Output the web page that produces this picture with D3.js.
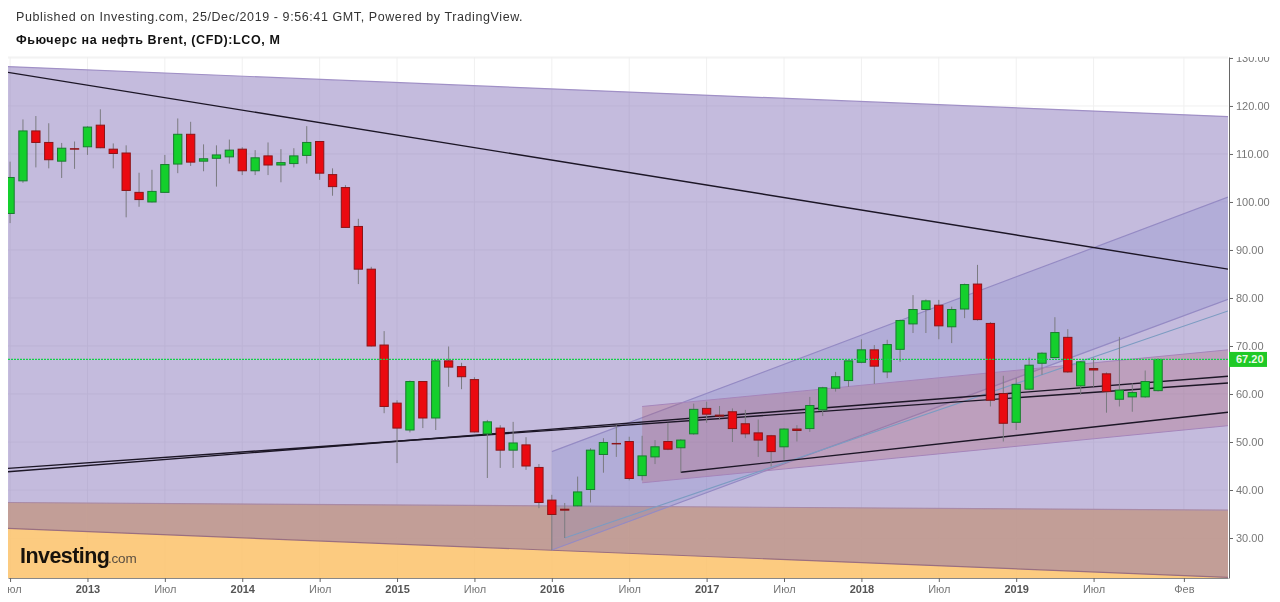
<!DOCTYPE html>
<html lang="en">
<head>
  <meta charset="UTF-8">
  <title>Brent monthly</title>
  <style>
    body, html { margin: 0; padding: 0; background: #fff; overflow: hidden; }
    text { font-family: "Liberation Sans", Arial, sans-serif; }
    /* the source is a soft jpeg */
    #svg { filter: blur(0.35px); }
  </style>
</head>
<body>
  <svg id="svg" width="1280" height="602"></svg>
  <script src="https://d3js.org/d3.v7.min.js"></script>
  <script>
    // monthly candles, first bar is Jul 2012, last is Dec 2019
    const opens = [97.6,104.4,114.8,112.4,108.5,111.1,111.5,116,111,110.2,102,100,102,107.9,114.1,108.5,109.1,109.4,111,106.5,109.6,107.7,108,109.7,112.6,105.7,103,94.9,86,70.2,58.1,52.5,62.6,55,66.9,65.7,63,51.7,52.9,48.3,49.4,44.7,37.9,36,36.7,40.1,47.4,49.7,50.1,43,46.9,50.1,48.8,51.7,57,55.6,56.3,53.8,51.9,51.3,49,52.7,52.8,56.7,61.2,62.8,66.6,69.2,64.6,69.3,74.6,77.6,78.5,74,77.7,82.9,74.7,60.1,54.1,61,66.4,67.6,71.8,61.7,65.3,64.2,58.9,59.4,59.4,60.7]
    const highs = [108.4,117.2,117.9,116.4,112.3,112.6,115.8,119.3,112.2,111.8,106.1,106.7,109.8,117.4,116.7,112,111.8,113,111.4,110.8,112.4,111,111.2,115.8,112.7,107,103.5,96.5,86.5,73.1,58.7,62.8,62.7,67.2,69.9,66.5,63.5,54.6,53.5,54.2,51,45.4,39,37.3,42.8,48.7,50.8,53.5,51.1,51.3,50.4,54,50.6,58,58.4,57.5,57,56.7,54.7,51.5,52.9,53.5,59.4,61.5,64.6,66.9,71.4,70.2,71.3,75.5,80.6,79.7,79.6,78.2,83,86.9,75,63.8,63.3,67.6,68.7,76,73.5,66.9,67.6,64.5,71.9,62.2,64.9,67.4]
    const lows = [95.6,104,107.2,107,105,106.9,109.8,111.2,107,96.8,99,99.9,101.9,106,107.5,106.4,103.2,108,105.6,105.6,105.6,104.1,107.2,108,104.6,101.3,94.6,82.9,69.9,56,45.6,52,52.9,52.5,61.5,61,52,42.5,44.6,44.6,44.2,36.2,27.5,30,36.6,37.4,43.6,46.9,42,42,45.4,48.3,43.6,51.5,54,54.8,50,50.8,46.9,44.9,46.3,50.1,52.1,55.4,60.5,61.5,66.4,62.1,63.3,66.7,72.7,72.7,71.4,70.6,75.8,75.3,57.4,50.1,52.5,60.8,64,67.4,64.4,59.8,61.5,56.1,57.4,56.3,59.2,60.5]
    const closes = [105.1,114.8,112.4,108.8,111.2,111,115.6,111.3,110.1,102.4,100.5,102.2,107.8,114.1,108.3,109,109.8,110.8,106.5,109.2,107.7,108.2,109.6,112.4,106,103.2,94.7,86,70,57.4,52.9,62.6,55,66.9,65.6,63.6,52.1,54.2,48.3,49.8,45,37.4,34.9,35.8,39.6,48.3,49.9,49.6,42.4,47.1,49,48.5,50.4,56.8,55.8,55.4,52.8,51.7,50.4,48,52.7,52.4,57.6,61.3,63.6,66.9,69.2,65.8,70.3,75.3,77.6,79.4,74.2,77.6,82.8,75.5,58.7,53.9,62,66,68.5,72.8,64.6,66.7,65,60.5,60.8,60.3,62.6,67.2]
    const lastPrice = 67.2

    // axis ticks
    const tickBars = [0,6,12,18,24,30,36,42,48,54,60,66,72,78,84,91]
    const tickLabels = ['Июл','2013','Июл','2014','Июл','2015','Июл','2016','Июл','2017','Июл','2018','Июл','2019','Июл','Фев']
    const priceTicks = [30,40,50,60,70,80,90,100,110,120,130]

    // drawings as [bar, price]
    const wideChannel = [[-0.16,128.2],[94.42,117.8],[94.42,21.8],[-0.16,32]]
    const lowerZone = [[-0.16,37.4],[94.42,35.8],[94.42,21.67],[-0.16,21.67]]
    const blueChannel = [[42,48],[94.42,101],[94.42,79.7],[42,27.5]]
    const pinkChannel = [[49,57.4],[94.42,69.2],[94.42,53.4],[49,41.5]]
    const downTrend = [[-0.16,127],[94.42,86]]
    const supportA = [[-0.16,44.5],[94.42,62.3]]
    const supportB = [[-0.16,43.8],[94.42,63.7]]
    const supportC = [[52,43.7],[94.42,56.2]]
    const thinLine = [[43,30],[94.42,77.3]]

    const margin = {top: 57, right: 52, bottom: 24, left: 8}
    const width = 1280
    const height = 602
    const plotRight = width - margin.right
    const plotBottom = height - margin.bottom

    const xScale = d3.scaleLinear().domain([-0.16, 94.42]).range([margin.left, plotRight])
    const yScale = d3.scaleLinear().domain([21.67, 130.2]).range([plotBottom, margin.top])

    const svg = d3.select('#svg')

    const defs = svg.append('defs')
    defs.append('clipPath').attr('id', 'plotClip').append('rect')
      .attr('x', margin.left).attr('y', margin.top)
      .attr('width', plotRight - margin.left).attr('height', plotBottom - margin.top)
    defs.append('clipPath').attr('id', 'axisClip').append('rect')
      .attr('x', 7).attr('y', margin.top)
      .attr('width', width - 7).attr('height', height - margin.top)

    // header
    svg.append('text').attr('x', 16).attr('y', 21)
      .style('font-size', '12.5px').style('letter-spacing', '0.59px').style('fill', '#333')
      .text('Published on Investing.com, 25/Dec/2019 - 9:56:41 GMT, Powered by TradingView.')
    svg.append('text').attr('x', 16).attr('y', 44)
      .style('font-size', '12.5px').style('font-weight', 'bold').style('letter-spacing', '0.6px').style('fill', '#111')
      .text('Фьючерс на нефть Brent, (CFD):LCO, M')

    // grid
    const grid = svg.append('g')
    grid.selectAll('.vgrid').data(tickBars).enter().append('line')
      .attr('x1', d => xScale(d)).attr('x2', d => xScale(d))
      .attr('y1', margin.top).attr('y2', plotBottom)
      .attr('stroke', '#f0f0f0')
    grid.selectAll('.hgrid').data(priceTicks).enter().append('line')
      .attr('x1', margin.left).attr('x2', plotRight)
      .attr('y1', d => yScale(d)).attr('y2', d => yScale(d))
      .attr('stroke', '#f0f0f0')
    grid.append('line').attr('x1', margin.left).attr('x2', plotRight)
      .attr('y1', margin.top).attr('y2', margin.top).attr('stroke', '#f0f0f0')

    const plot = svg.append('g').attr('clip-path', 'url(#plotClip)')
    const line = d3.line().x(d => xScale(d[0])).y(d => yScale(d[1]))

    // filled channels
    plot.append('path').attr('d', line(lowerZone) + 'Z').attr('fill', 'rgba(252,196,110,0.88)')
    plot.append('path').attr('d', line(wideChannel) + 'Z').attr('fill', 'rgba(124,104,180,0.45)')
    plot.append('path').attr('d', line(wideChannel.slice(0, 2))).attr('fill', 'none').attr('stroke', '#a090c6').attr('stroke-width', 1.2)
    plot.append('path').attr('d', line(wideChannel.slice(2))).attr('fill', 'none').attr('stroke', '#9a6f80').attr('stroke-width', 1.2)
    plot.append('path').attr('d', line(lowerZone.slice(0, 2))).attr('fill', 'none').attr('stroke', '#a98aa5').attr('stroke-width', 1.2)

    plot.append('path').attr('d', line(blueChannel) + 'Z').attr('fill', 'rgba(110,120,200,0.2)')
    plot.append('path').attr('d', line(blueChannel.slice(0, 2))).attr('fill', 'none').attr('stroke', '#958bc4').attr('stroke-width', 1.2)
    plot.append('path').attr('d', line(blueChannel.slice(2))).attr('fill', 'none').attr('stroke', '#958bc4').attr('stroke-width', 1.2)

    plot.append('path').attr('d', line(pinkChannel) + 'Z').attr('fill', 'rgba(173,97,117,0.3)')
    plot.append('path').attr('d', line(pinkChannel.slice(0, 2))).attr('fill', 'none').attr('stroke', '#a585ba').attr('stroke-width', 1)
    plot.append('path').attr('d', line(pinkChannel.slice(2))).attr('fill', 'none').attr('stroke', '#a585ba').attr('stroke-width', 1)

    plot.append('path').attr('d', line(thinLine)).attr('fill', 'none').attr('stroke', '#7d9cc2').attr('stroke-width', 1.2)

    // trend lines
    const trendLines = [downTrend, supportA, supportB, supportC]
    plot.selectAll('.trend').data(trendLines).enter().append('path')
      .attr('d', d => line(d)).attr('fill', 'none').attr('stroke', '#1c1626').attr('stroke-width', 1.4)

    // candles
    const bars = d3.range(closes.length)
    plot.selectAll('.wick').data(bars).enter().append('line')
      .attr('x1', i => xScale(i)).attr('x2', i => xScale(i))
      .attr('y1', i => yScale(highs[i])).attr('y2', i => yScale(lows[i]))
      .attr('stroke', '#7b7b80').attr('stroke-width', 1)
    const bodyWidth = xScale(1) - xScale(0) - 4.6
    plot.selectAll('.body').data(bars).enter().append('rect')
      .attr('x', i => xScale(i) - bodyWidth / 2)
      .attr('width', bodyWidth)
      .attr('y', i => yScale(Math.max(opens[i], closes[i])))
      .attr('height', i => Math.abs(yScale(opens[i]) - yScale(closes[i])))
      .attr('fill', i => closes[i] >= opens[i] ? '#14cf2c' : '#ea0a10')
      .attr('stroke', i => closes[i] >= opens[i] ? '#1a7d30' : '#8c1518')
      .attr('stroke-width', 1)

    // last price line, sits over the candles
    plot.append('line')
      .attr('x1', margin.left).attr('x2', plotRight)
      .attr('y1', yScale(lastPrice)).attr('y2', yScale(lastPrice))
      .attr('stroke', '#12d04a').attr('stroke-width', 1.3).attr('stroke-dasharray', '2 1')

    // watermark
    svg.append('text').attr('x', 20).attr('y', 563)
      .style('font-size', '21.5px').style('font-weight', 'bold').style('letter-spacing', '-0.55px').style('fill', '#17120c')
      .text('Investing')
    svg.append('text').attr('x', 108).attr('y', 563)
      .style('font-size', '13.5px').style('letter-spacing', '-0.2px').style('fill', '#5a4f42')
      .text('.com')

    // axes
    const bottomAxis = d3.axisBottom(xScale)
      .tickValues(tickBars)
      .tickFormat((d, i) => tickLabels[i])
      .tickSize(4)
      .tickSizeOuter(0)
    const xAxisGroup = svg.append('g').attr('clip-path', 'url(#axisClip)').append('g')
      .attr('transform', `translate(0, ${plotBottom})`)
      .call(bottomAxis)
    xAxisGroup.selectAll('text')
      .attr('y', 7)
      .style('font-size', '11px')
      .style('font-weight', d => tickLabels[tickBars.indexOf(d)].length === 4 ? 'bold' : 'normal')
      .style('fill', d => tickLabels[tickBars.indexOf(d)].length === 4 ? '#555' : '#777')
    xAxisGroup.selectAll('line').attr('stroke', '#666')
    xAxisGroup.select('.domain').attr('stroke', '#888')

    const rightAxis = d3.axisRight(yScale)
      .tickValues(priceTicks)
      .tickFormat(d3.format('.2f'))
      .tickSize(4)
      .tickSizeOuter(0)
    const yAxisGroup = svg.append('g').attr('clip-path', 'url(#axisClip)').append('g')
      .attr('transform', `translate(${plotRight + 1}, 0)`)
      .call(rightAxis)
    yAxisGroup.selectAll('text').attr('x', 7).style('font-size', '11px').style('fill', '#777')
    yAxisGroup.selectAll('line').attr('stroke', '#666')
    yAxisGroup.select('.domain').attr('stroke', '#666')

    // last price tag
    svg.append('rect')
      .attr('x', plotRight + 1).attr('y', yScale(lastPrice) - 7.5)
      .attr('width', 38).attr('height', 15)
      .attr('fill', '#1fc926')
    svg.append('text')
      .attr('x', plotRight + 8).attr('y', yScale(lastPrice) + 4)
      .style('font-size', '11px').style('font-weight', 'bold').style('fill', '#eafbe8')
      .text(d3.format('.2f')(lastPrice))
  </script>
</body>
</html>
